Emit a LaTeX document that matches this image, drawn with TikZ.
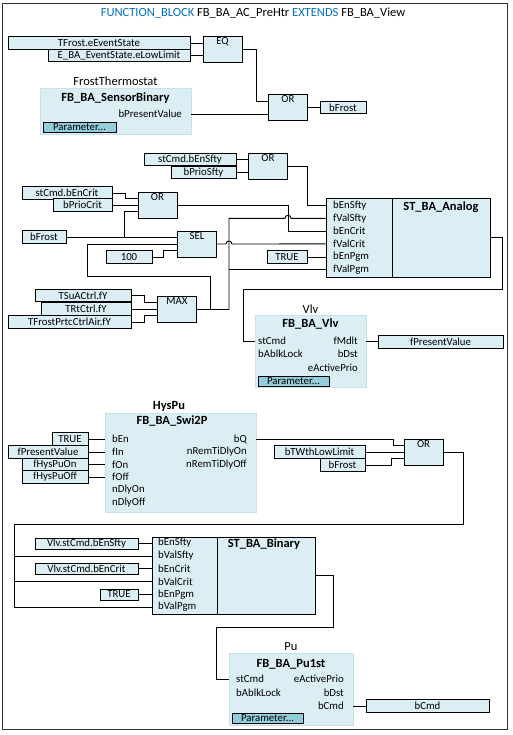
\documentclass[tikz,border=0pt]{standalone}
\usepackage{fontspec}
\setmainfont{Carlito}
\usetikzlibrary{positioning}
\usetikzlibrary{backgrounds}

\definecolor{ltblue}{RGB}{218,238,243}
\definecolor{fbline}{RGB}{200,226,236}
\definecolor{parblue}{RGB}{146,205,220}
\definecolor{kwblue}{RGB}{0,112,192}

\newcommand\pinfont{\fontsize{10.8}{12}\selectfont}
\newcommand\fbtitlefont{\bfseries\fontsize{12.5}{14}\selectfont}
\newcommand\lblfont{\fontsize{12.5}{14}\selectfont}

\begin{document}
\begin{tikzpicture} [x=1pt,y=-1pt,
            wire/.style={black,line width=0.9pt},
            varbox/.style={draw=black,line width=0.8pt,fill=ltblue,inner sep=0pt,minimum height=12.5pt,minimum width=#1,font=\pinfont},
            opbox/.style={draw=black,line width=0.8pt,fill=ltblue,inner sep=0pt,minimum width=39pt,minimum height=26pt,
                          label={[font=\pinfont,anchor=north,inner sep=0pt,yshift=-1.5pt]north:#1}},
            fbbox/.style={fill=ltblue,draw=fbline,line width=0.6pt,inner sep=0pt},
            stbox/.style={draw=black,line width=0.8pt,fill=ltblue,inner sep=0pt},
            parbox/.style={draw=black,line width=0.8pt,fill=parblue,inner sep=0pt,minimum height=10pt,minimum width=#1,font=\pinfont},
            pinL/.style={anchor=west,inner sep=0pt,font=\pinfont},
            pinR/.style={anchor=east,inner sep=0pt,font=\pinfont},
         every node/.append style={align=center}]

\useasboundingbox (0,0) rectangle (512,735);

%Title
\node (title) at (253,13) [font=\lblfont] {\textcolor{kwblue}{FUNCTION\_BLOCK} FB\_BA\_AC\_PreHtr \textcolor{kwblue}{EXTENDS} FB\_BA\_View};

%EQ
\node (tfrost) at (99,43) [varbox=182pt] {TFrost.eEventState};
\node (lowlim) at (119,55.5) [varbox=142pt] {E\_BA\_EventState.eLowLimit};
\node (eq) at (222.5,49) [opbox=EQ] {};
\draw [wire] (tfrost.east) -- (eq.west |- tfrost.east);
\draw [wire] (lowlim.east) -- (eq.west |- lowlim.east);

%FrostThermostat
\node (frostLbl) at (115.5,81) [font=\lblfont] {FrostThermostat};
\node (sensor) at (115.5,111) [fbbox,minimum width=151pt,minimum height=46pt] {};
\node (sensorT) at (115.5,98) [font=\fbtitlefont] {FB\_BA\_SensorBinary};
\node (sensorQ) at (182,114) [pinR] {bPresentValue};
\node (sensorP) at (79.5,127) [parbox=73pt] {Parameter...};

%OR bFrost
\node (or1) at (288,107.5) [opbox=OR] {};
\node (bfrost1) at (343,107.5) [varbox=46pt] {bFrost};
\coordinate (or1a) at (268.5,101);
\draw [wire] (eq.east) -- ++(14,0) |- (or1a);
\draw [wire] (sensor.east |- sensorQ) -- (or1.west |- sensorQ);
\draw [wire] (or1.east) -- (bfrost1.west);

%OR Sfty
\node (enSfty) at (190,159.5) [varbox=92pt] {stCmd.bEnSfty};
\node (prioSfty) at (203.5,172.5) [varbox=65pt] {bPrioSfty};
\node (or2) at (268,166) [opbox=OR] {};
\draw [wire] (enSfty.east) -- (or2.west |- enSfty.east);
\draw [wire] (prioSfty.east) -- (or2.west |- prioSfty.east);

%OR Crit
\node (enCrit) at (67,193) [varbox=90pt] {stCmd.bEnCrit};
\node (prioCrit) at (82.5,205) [varbox=59pt] {bPrioCrit};
\node (or3) at (157.5,205) [opbox=OR] {};
\coordinate (or3a) at (138,198);
\coordinate (or3c) at (138,211);
\draw [wire] (enCrit.east) -- ++(13,0) |- (or3a);
\draw [wire] (prioCrit.east) -- (or3.west |- prioCrit.east);

%SEL
\node (bfrost2) at (44,237) [varbox=44pt] {bFrost};
\node (sel) at (197,244) [opbox=SEL] {};
\node (hundred) at (129,257) [varbox=46pt] {100};
\coordinate (sela) at (177.5,237);
\coordinate (selb) at (177.5,244);
\coordinate (selc) at (177.5,250);
\coordinate (bfrostJ) at (124,237);
\draw [wire] (bfrost2.east) -- (sela);
\draw [wire] (bfrostJ) |- (or3c);
\draw [wire] (hundred.east) -- ++(11,0) |- (selc);

%MAX
\node (suA) at (83,295.5) [varbox=96pt] {TSuACtrl.fY};
\node (rtC) at (86,309) [varbox=90pt] {TRtCtrl.fY};
\node (frostPrtc) at (69.5,322) [varbox=123pt] {TFrostPrtcCtrlAir.fY};
\node (max) at (177,309.5) [opbox=MAX] {};
\coordinate (maxa) at (157.5,302);
\coordinate (maxc) at (157.5,315.5);
\draw [wire] (suA.east) -- ++(13,0) |- (maxa);
\draw [wire] (rtC.east) -- (max.west |- rtC.east);
\draw [wire] (frostPrtc.east) -- ++(13,0) |- (maxc);

%ST_BA_Analog
\node (anaPins) at (359,237.5) [stbox,minimum width=66pt,minimum height=79pt] {};
\node (anaBody) at (441,237.5) [stbox,minimum width=98pt,minimum height=79pt] {};
\node (anaT) at (441,207) [font=\fbtitlefont] {ST\_BA\_Analog};
\node (ana1) at (333,205.5) [pinL] {bEnSfty};
\node (ana2) at (333,218.3) [pinL] {fValSfty};
\node (ana3) at (333,231.1) [pinL] {bEnCrit};
\node (ana4) at (333,243.9) [pinL] {fValCrit};
\node (ana5) at (333,256.7) [pinL] {bEnPgm};
\node (ana6) at (333,269.5) [pinL] {fValPgm};
\node (trueA) at (287,257) [varbox=40pt] {TRUE};

\coordinate (maxV) at (229,309.5);
\coordinate (maxJ) at (210,309.5);
\coordinate (selJ) at (87,276);
\coordinate (hop1) at (285,218.3);
\draw [wire] (or2.east) -- ++(20,0) |- (anaPins.west |- ana1);
\draw [wire] (or3.east) -- ++(111,0) |- (anaPins.west |- ana3);
\draw [wire] (sel.east) -- ++(9,0) arc[start angle=180,end angle=0,radius=3pt] -- (anaPins.west |- ana4);
\draw [wire] (trueA.east) -- (anaPins.west |- trueA.east);
\draw [wire] (max.east) -- (maxV) |- (hop1) arc[start angle=180,end angle=0,radius=3pt] -- (anaPins.west |- ana2);
\draw [wire] (maxV |- ana6) -- (anaPins.west |- ana6);
\draw [wire] (maxJ) |- (selJ) |- (selb);

%Vlv
\node (vlvLbl) at (310.5,309) [font=\lblfont] {Vlv};
\node (vlv) at (310.5,351) [fbbox,minimum width=111pt,minimum height=72pt] {};
\node (vlvT) at (310.5,324) [font=\fbtitlefont] {FB\_BA\_Vlv};
\node (vlvCmd) at (258,341) [pinL] {stCmd};
\node (vlvMdlt) at (358,341) [pinR] {fMdlt};
\node (vlvLock) at (258,354) [pinL] {bAblkLock};
\node (vlvDst) at (358,354) [pinR] {bDst};
\node (vlvPrio) at (358,368) [pinR] {eActivePrio};
\node (vlvP) at (293.5,381) [parbox=71pt] {Parameter...};
\node (fpv) at (440.5,342) [varbox=125pt] {fPresentValue};
\coordinate (vlvJ) at (243,289);
\draw [wire] (anaBody.east) -- ++(12,0) |- (vlvJ) |- (vlv.west |- vlvCmd);
\draw [wire] (vlv.east |- vlvMdlt) -- (fpv.west |- vlvMdlt);

%HysPu
\node (hysLbl) at (169,406) [font=\fbtitlefont] {HysPu};
\node (swi) at (180.5,462.5) [fbbox,minimum width=151pt,minimum height=99pt] {};
\node (swiT) at (172,421) [font=\fbtitlefont] {FB\_BA\_Swi2P};
\node (swiEn) at (112,439) [pinL] {bEn};
\node (swiIn) at (112,452) [pinL] {fIn};
\node (swiOn) at (112,464.5) [pinL] {fOn};
\node (swiOff) at (112,477) [pinL] {fOff};
\node (swiDOn) at (112,490) [pinL] {nDlyOn};
\node (swiDOff) at (112,503) [pinL] {nDlyOff};
\node (swiQ) at (247,439) [pinR] {bQ};
\node (swiROn) at (247,452) [pinR] {nRemTiDlyOn};
\node (swiROff) at (247,464.5) [pinR] {nRemTiDlyOff};
\node (true2) at (70,439) [varbox=36pt] {TRUE};
\node (fpv2) at (48,452) [varbox=80pt] {fPresentValue};
\node (hysOn) at (55,464.5) [varbox=66pt] {fHysPuOn};
\node (hysOff) at (55,477) [varbox=66pt] {fHysPuOff};
\draw [wire] (true2.east) -- (swi.west |- true2.east);
\draw [wire] (fpv2.east) -- (swi.west |- fpv2.east);
\draw [wire] (hysOn.east) -- (swi.west |- hysOn.east);
\draw [wire] (hysOff.east) -- (swi.west |- hysOff.east);

%OR pump
\node (or4) at (423.5,452) [opbox=OR] {};
\node (twth) at (319.5,452) [varbox=91pt] {bTWthLowLimit};
\node (bfrost3) at (342.5,465) [varbox=45pt] {bFrost};
\coordinate (or4a) at (404,445);
\coordinate (or4c) at (404,458.5);
\draw [wire] (swi.east |- swiQ) -- ++(137,0) |- (or4a);
\draw [wire] (twth.east) -- (or4.west |- twth.east);
\draw [wire] (bfrost3.east) -- ++(26,0) |- (or4c);

%ST_BA_Binary
\node (binPins) at (184.5,575.5) [stbox,minimum width=65pt,minimum height=77pt] {};
\node (binBody) at (266,575.5) [stbox,minimum width=98pt,minimum height=77pt] {};
\node (binT) at (264,544) [font=\fbtitlefont] {ST\_BA\_Binary};
\node (bin1) at (158,543) [pinL] {bEnSfty};
\node (bin2) at (158,556) [pinL] {bValSfty};
\node (bin3) at (158,568.5) [pinL] {bEnCrit};
\node (bin4) at (158,581.5) [pinL] {bValCrit};
\node (bin5) at (158,594.5) [pinL] {bEnPgm};
\node (bin6) at (158,607) [pinL] {bValPgm};
\node (vEnSfty) at (86.5,543.5) [varbox=103pt,minimum height=11pt] {Vlv.stCmd.bEnSfty};
\node (vEnCrit) at (86.5,568.5) [varbox=103pt,minimum height=11pt] {Vlv.stCmd.bEnCrit};
\node (true3) at (119,594.5) [varbox=38pt,minimum height=11pt] {TRUE};
\coordinate (binJ) at (14,524);
\draw [wire] (or4.east) -- ++(20,0) |- (binJ) |- (binPins.west |- bin6);
\draw [wire] (binJ |- bin2) -- (binPins.west |- bin2);
\draw [wire] (binJ |- bin4) -- (binPins.west |- bin4);
\draw [wire] (vEnSfty.east) -- (binPins.west |- vEnSfty.east);
\draw [wire] (vEnCrit.east) -- (binPins.west |- vEnCrit.east);
\draw [wire] (true3.east) -- (binPins.west |- true3.east);

%Pu
\node (puLbl) at (291,647) [font=\lblfont] {Pu};
\node (pu) at (291,689) [fbbox,minimum width=124pt,minimum height=72pt] {};
\node (puT) at (291,664) [font=\fbtitlefont] {FB\_BA\_Pu1st};
\node (puCmd) at (236,679) [pinL] {stCmd};
\node (puPrio) at (344,679) [pinR] {eActivePrio};
\node (puLock) at (236,693) [pinL] {bAblkLock};
\node (puDst) at (344,693) [pinR] {bDst};
\node (puOut) at (344,706) [pinR] {bCmd};
\node (puP) at (267.5,718) [parbox=71pt] {Parameter...};
\node (bcmd) at (427.5,706) [varbox=123pt] {bCmd};
\coordinate (puJ) at (216,627);
\draw [wire] (binBody.east) -- ++(18,0) |- (puJ) |- (pu.west |- puCmd);
\draw [wire] (pu.east |- puOut) -- (bcmd.west);

\begin{pgfonlayer}{background}
   % Draw the frame
   \path[draw=black!80, line width=0.9pt]
   (2,3) rectangle (507,729);
\end{pgfonlayer}

\end{tikzpicture}
\end{document}
